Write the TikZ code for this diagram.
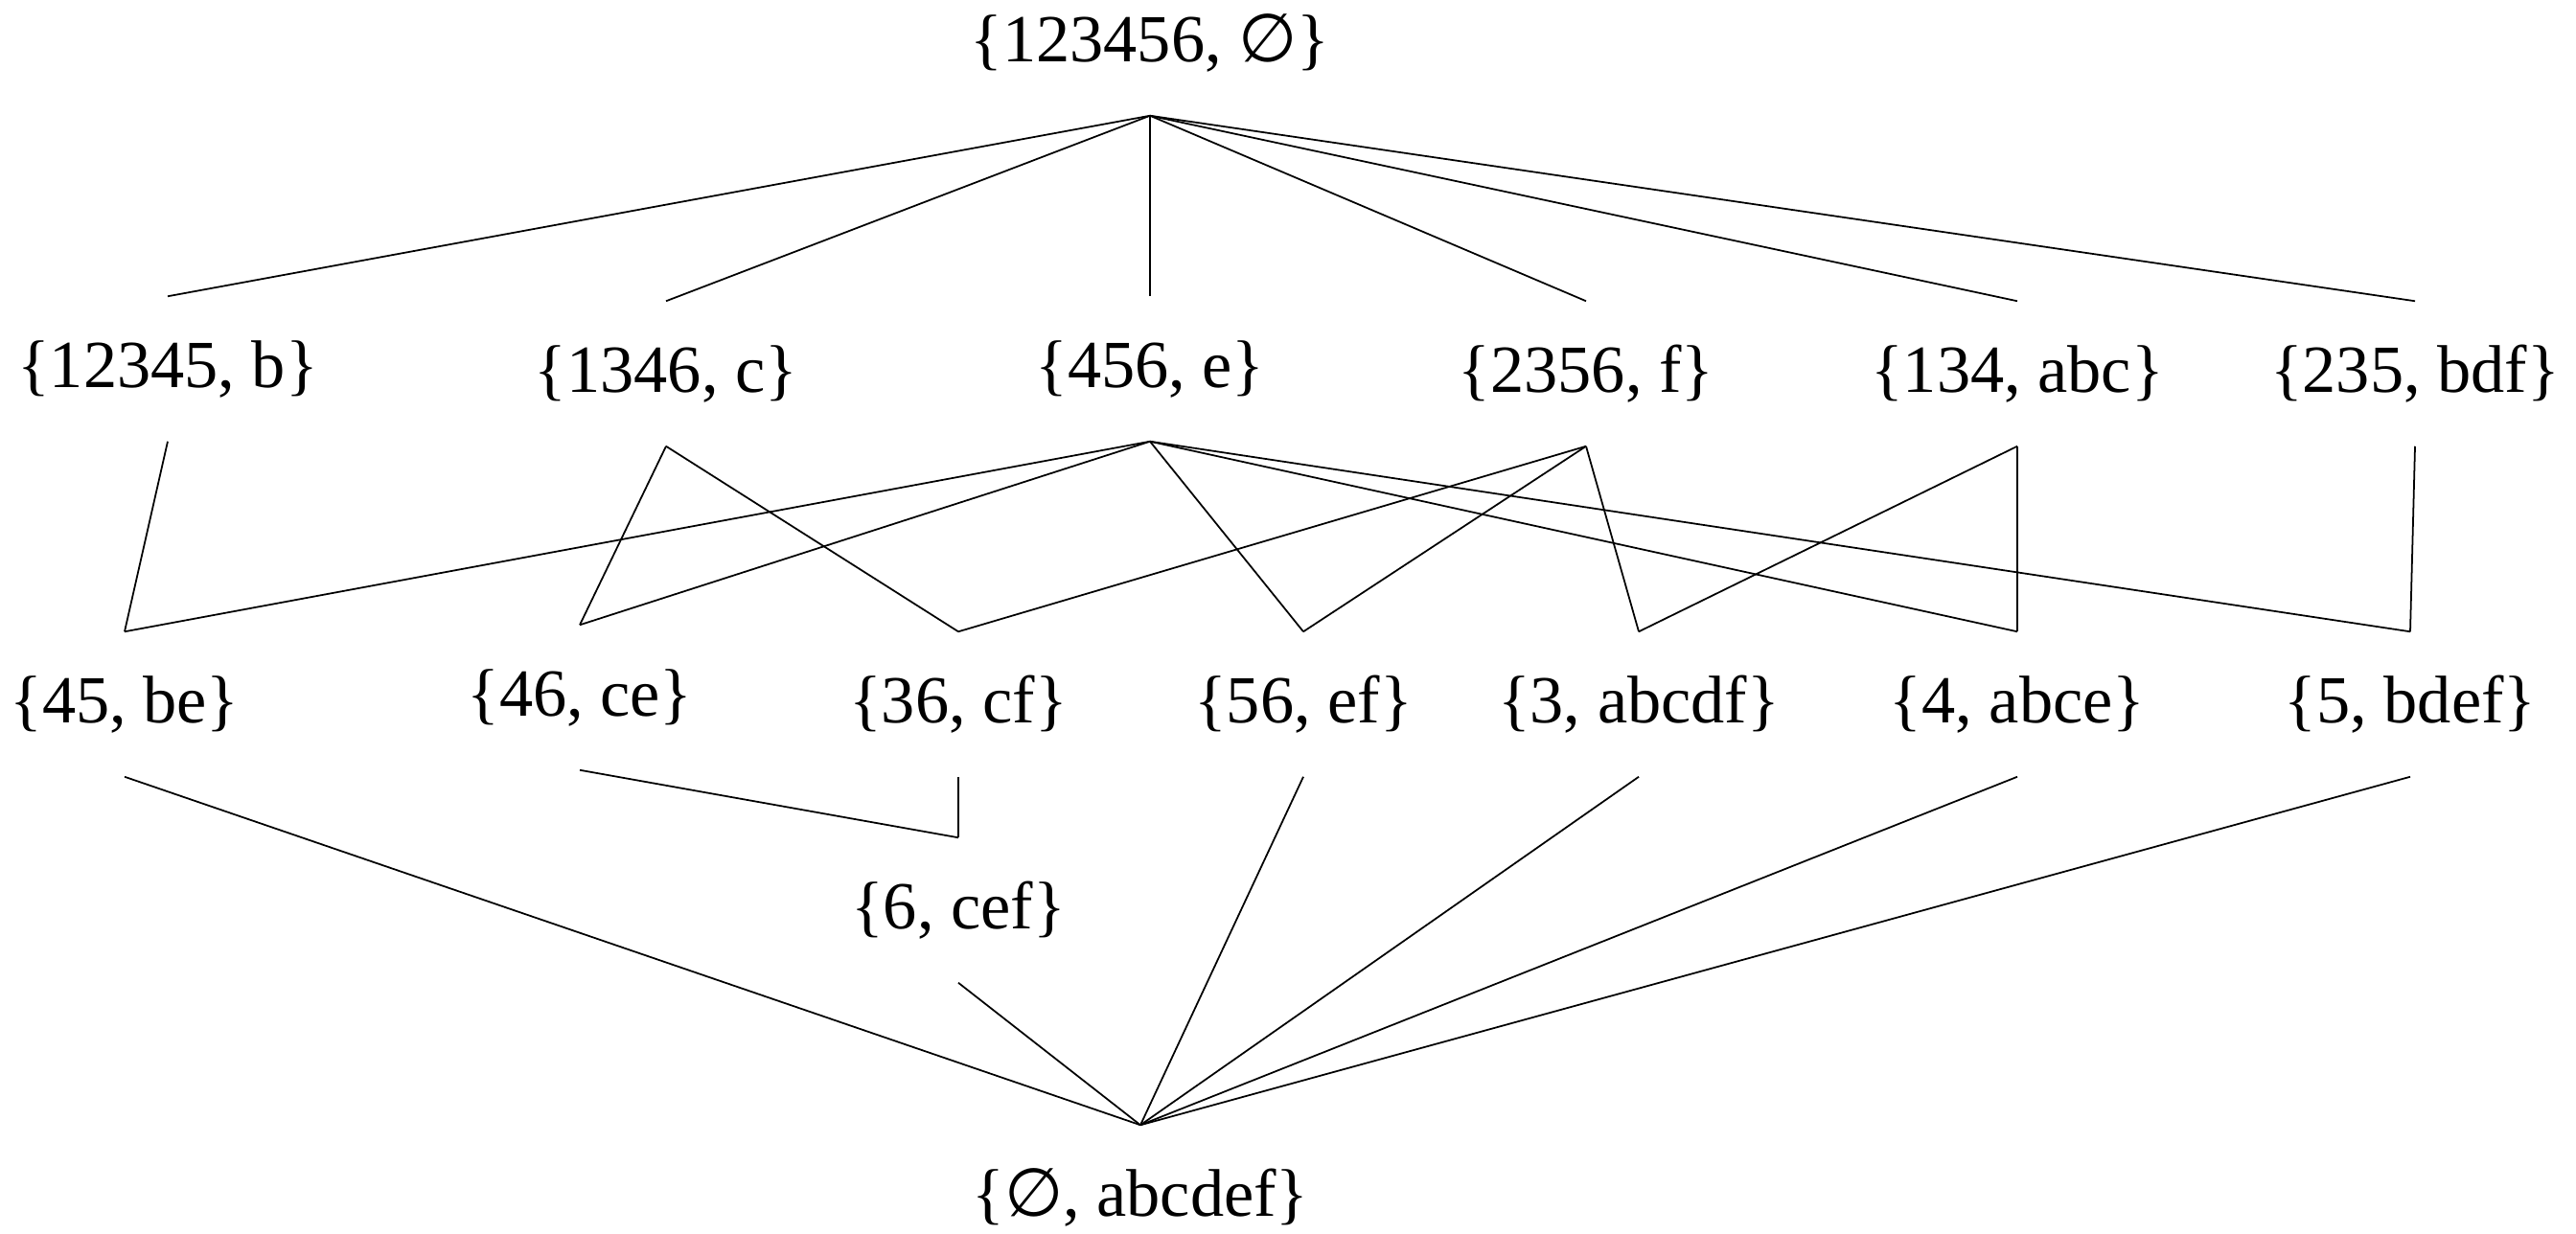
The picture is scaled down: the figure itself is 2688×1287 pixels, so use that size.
\documentclass[tikz,border=0pt]{standalone}
\usepackage{fontspec}
\setmainfont{Liberation Serif}
\newfontfamily\symf{DejaVu Sans}
\newcommand{\emp}{{\symf ∅}}
\begin{document}
\begin{tikzpicture}[x=0.01cm,y=-0.01cm,
  lat/.style={font=\fontsize{20}{24}\selectfont, minimum height=1.5cm, inner sep=0pt},
  edge/.style={draw, line width=0.5pt}]
\useasboundingbox (0,0) rectangle (2688,1287);
\node[lat] (top) at (1200,45) {\{123456, \emp\}};
\node[lat] (b) at (175,385) {\{12345, b\}};
\node[lat] (c) at (695,390) {\{1346, c\}};
\node[lat] (e) at (1200,385) {\{456, e\}};
\node[lat] (f) at (1655,390) {\{2356, f\}};
\node[lat] (abc) at (2105,390) {\{134, abc\}};
\node[lat] (bdf) at (2520,390) {\{235, bdf\}};
\node[lat] (be) at (130,735) {\{45, be\}};
\node[lat] (ce) at (605,728) {\{46, ce\}};
\node[lat] (cf) at (1000,735) {\{36, cf\}};
\node[lat] (ef) at (1360,735) {\{56, ef\}};
\node[lat] (abcdf) at (1710,735) {\{3, abcdf\}};
\node[lat] (abce) at (2105,735) {\{4, abce\}};
\node[lat] (bdef) at (2515,735) {\{5, bdef\}};
\node[lat] (cef) at (1000,950) {\{6, cef\}};
\node[lat] (bot) at (1190,1250) {\{\emp, abcdef\}};
\foreach \n in {b,c,e,f,abc,bdf} \draw[edge] (top.south) -- (\n.north);
\draw[edge] (b.south) -- (be.north);
\draw[edge] (c.south) -- (ce.north);
\draw[edge] (c.south) -- (cf.north);
\foreach \n in {be,ce,ef,abce,bdef} \draw[edge] (e.south) -- (\n.north);
\foreach \n in {cf,ef,abcdf} \draw[edge] (f.south) -- (\n.north);
\draw[edge] (abc.south) -- (abcdf.north);
\draw[edge] (abc.south) -- (abce.north);
\draw[edge] (bdf.south) -- (bdef.north);
\draw[edge] (ce.south) -- (cef.north);
\draw[edge] (cf.south) -- (cef.north);
\foreach \n in {be,cef,ef,abcdf,abce,bdef} \draw[edge] (\n.south) -- (bot.north);
\end{tikzpicture}
\end{document}
